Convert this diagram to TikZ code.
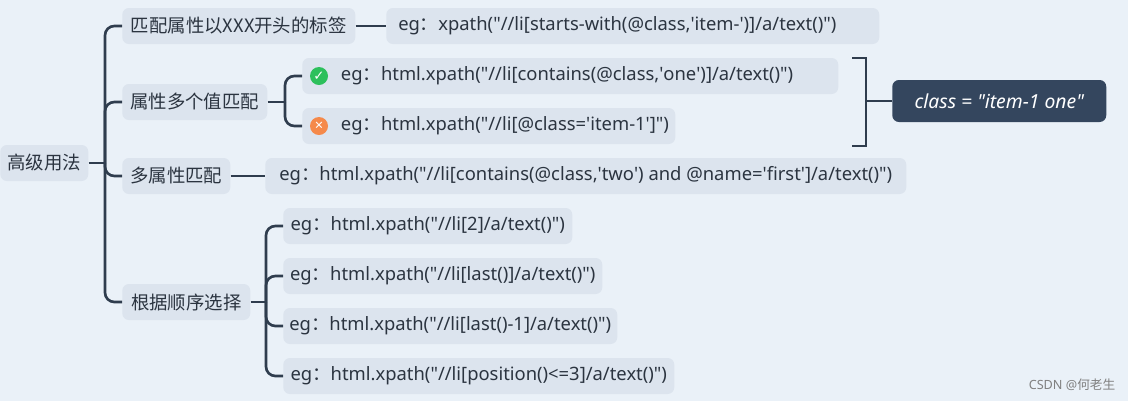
\documentclass[tikz,border=0pt]{standalone}
\usepackage{fontspec}
\setmainfont{Noto Sans}[Ligatures=ResetAll]
\newfontfamily\cj{Noto Sans CJK SC}
\newcommand\qd{{\XeTeXglyph\XeTeXcharglyph"22\relax}}
\newcommand\qs{{\XeTeXglyph\XeTeXcharglyph"27\relax}}
\newcommand\cc{{\cj ：}}
\definecolor{bg}{HTML}{EAF1F8}
\definecolor{boxc}{HTML}{DCE4EE}
\definecolor{linec}{HTML}{2F3D4E}
\definecolor{txt}{HTML}{2B3440}
\definecolor{dark}{HTML}{34465E}
\definecolor{okc}{HTML}{2DC05C}
\definecolor{noc}{HTML}{F5894A}
\begin{document}
\begin{tikzpicture}[x=0.75pt,y=-0.75pt,
  bx/.style={fill=boxc,rounded corners=5pt,text=txt,font=\fontsize{13.8pt}{15pt}\selectfont,minimum height=27pt,inner xsep=0pt,inner ysep=0pt,anchor=west},
  ln/.style={draw=linec,line width=2pt,rounded corners=7pt}]
\fill[bg] (0,0) rectangle (1128,401);
\useasboundingbox (0,0) rectangle (1128,401);
\node[bx,minimum width=66pt] (root) at (0,163) {\cj 高级用法};
\node[bx,minimum width=174.75pt] (a) at (122,26) {\cj 匹配属性以XXX开头的标签};
\node[bx,text width=369.75pt,align=left] (a1) at (386,26) {\hspace*{9pt}eg\cc xpath(\qd//li[starts-with(@class,\qs item-\qs)]/a/text()\qd)};
\node[bx,minimum width=108.75pt] (b) at (122,102) {\cj 属性多个值匹配};
\node[bx,text width=402pt,align=left] (b1) at (302,76) {\hspace*{29pt}eg\cc html.xpath(\qd//li[contains(@class,\qs one\qs)]/a/text()\qd)};
\node[bx,text width=279.75pt,align=left] (b2) at (302,126) {\hspace*{29pt}eg\cc html.xpath(\qd//li[@class=\qs item-1\qs]\qd)};
\node[circle,fill=okc,minimum size=13.5pt,inner sep=0pt,text=white,font=\bfseries\fontsize{10pt}{10pt}\selectfont] (ic1) at (319,76) {\fontspec{DejaVu Sans}✓};
\node[circle,fill=noc,minimum size=13.5pt,inner sep=0pt,text=white,font=\fontsize{11pt}{11pt}\selectfont] (ic2) at (319,126) {×};
\node[bx,minimum width=81pt] (c) at (122,176) {\cj 多属性匹配};
\node[bx,minimum width=480.75pt] (c1) at (265,176) {eg\cc html.xpath(\qd//li[contains(@class,\qs two\qs) and @name=\qs first\qs]/a/text()\qd)};
\node[bx,minimum width=96pt] (d) at (122,302) {\cj 根据顺序选择};
\node[bx,minimum width=216.75pt] (d1) at (283,226) {eg\cc html.xpath(\qd//li[2]/a/text()\qd)};
\node[bx,minimum width=239.25pt] (d2) at (283,276) {eg\cc html.xpath(\qd//li[last()]/a/text()\qd)};
\node[bx,minimum width=250.5pt] (d3) at (283,326) {eg\cc html.xpath(\qd//li[last()-1]/a/text()\qd)};
\node[bx,minimum width=293.25pt] (d4) at (283,376) {eg\cc html.xpath(\qd//li[position()<=3]/a/text()\qd)};
\node[fill=dark,rounded corners=5pt,minimum width=160.5pt,minimum height=31.5pt,text=white,font=\itshape\fontsize{14.5pt}{16pt}\selectfont,anchor=west] (s) at (892,101) {class = \qd item-1 one\qd};
\node[text=gray,font=\fontsize{9.5pt}{10pt}\selectfont,anchor=east] (w) at (1120,385) {CSDN @{\cj 何老生}};
\coordinate (t) at (105,163);
\draw[ln] (root.east) -- (t);
\foreach \n in {a,b,c,d} \draw[ln] (t) |- (\n.west);
\draw[ln] (a.east) -- (a1.west);
\draw[ln] (c.east) -- (c1.west);
\coordinate (tb) at (285,102);
\draw[ln] (b.east) -- (tb);
\foreach \n in {b1,b2} \draw[ln] (tb) |- (\n.west);
\coordinate (td) at (266,302);
\draw[ln] (d.east) -- (td);
\foreach \n in {d1,d2,d3,d4} \draw[ln] (td) |- (\n.west);
\coordinate (k1) at (852,58); \coordinate (k2) at (852,146);
\draw[draw=linec,line width=2pt] (k1) -- ++(14,0) -- ++(0,88) -- (k2);
\draw[draw=linec,line width=2pt] (866,101) -- (s.west);
\end{tikzpicture}
\end{document}
